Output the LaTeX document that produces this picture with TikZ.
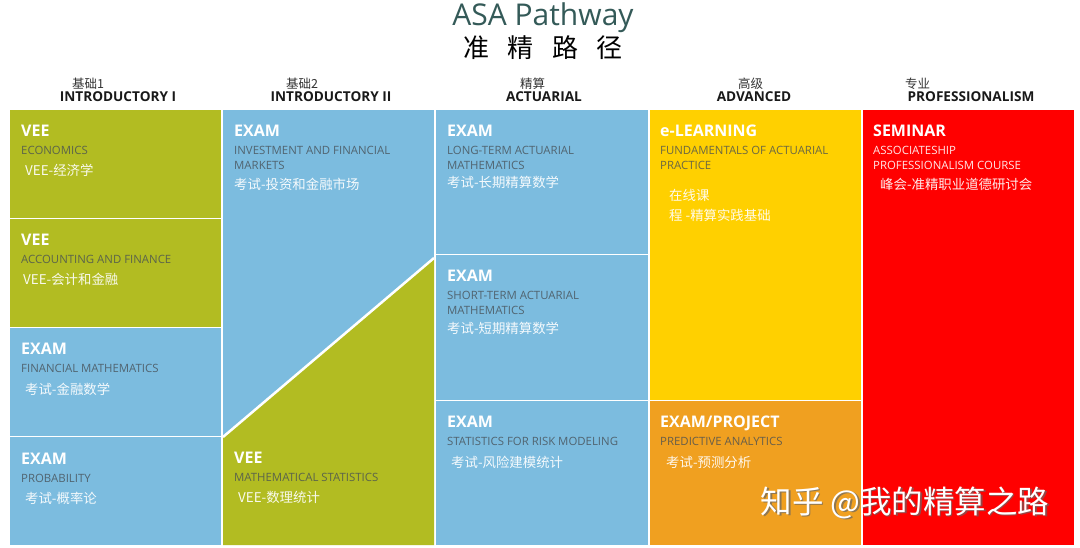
\documentclass[tikz,border=0pt]{standalone}
\usepackage{fontspec}
\setmainfont{Open Sans}
\newfontfamily\cjk{Noto Sans CJK SC}
\definecolor{cgreen}{RGB}{178,188,34}
\definecolor{cblue}{RGB}{124,188,223}
\definecolor{cyellow}{RGB}{255,208,0}
\definecolor{corange}{RGB}{240,160,32}
\definecolor{cred}{RGB}{255,0,0}
\definecolor{ctitle}{RGB}{52,90,88}
\definecolor{csub}{RGB}{70,78,84}
\begin{document}
\begin{tikzpicture}[x=1pt,y=-1pt,
  head/.style={anchor=base west,inner sep=0pt,text=white,font=\fontsize{16}{16}\selectfont\bfseries},
  sub/.style={anchor=base west,inner sep=0pt,text=csub,opacity=0.8,font=\fontsize{11.4}{15}\selectfont,align=left},
  cn/.style={anchor=base west,inner sep=0pt,text=white,opacity=0.92,font=\cjk\fontsize{13.4}{20}\selectfont,align=left},
  colcn/.style={anchor=base west,inner sep=0pt,text=black!80,font=\cjk\fontsize{12.5}{12.5}\selectfont},
  colen/.style={anchor=base,inner sep=0pt,text=black!90,font=\fontsize{13.6}{13.6}\selectfont\bfseries},
  gap/.style={white,line width=2.5pt}]
\useasboundingbox (0,0) rectangle (1080,548);
\fill[white] (0,0) rectangle (1080,548);
% title
\node[anchor=base,inner sep=0pt,text=ctitle,font=\fontsize{30}{30}\selectfont] (title) at (543,26) {ASA Pathway};
\node[anchor=base,inner sep=0pt,text=black,font=\cjk\fontsize{26}{26}\selectfont] (titlecn) at (543,58) {准\hspace{0.7em}精\hspace{0.7em}路\hspace{0.7em}径};
% column headers
\node[colcn] (h1c) at (72,89) {基础1};
\node[colen] (h1e) at (118,102) {INTRODUCTORY I};
\node[colcn] (h2c) at (286,89) {基础2};
\node[colen] (h2e) at (331,102) {INTRODUCTORY II};
\node[colcn] (h3c) at (520,89) {精算};
\node[colen] (h3e) at (544,102) {ACTUARIAL};
\node[colcn] (h4c) at (738,89) {高级};
\node[colen] (h4e) at (754,102) {ADVANCED};
\node[colcn] (h5c) at (905,89) {专业};
\node[colen] (h5e) at (971,102) {PROFESSIONALISM};
% boxes column 1
\fill[cgreen] (10,110) rectangle (221,218);
\fill[cgreen] (10,219) rectangle (221,327);
\fill[cblue] (10,328) rectangle (221,436);
\fill[cblue] (10,437) rectangle (221,545);
% column 2
\fill[cblue] (223,110) rectangle (434,545);
\fill[cgreen] (223,437) -- (434,258) -- (434,545) -- (223,545) -- cycle;
\draw[gap] (223,437) -- (434,258);
% column 3
\fill[cblue] (436,110) rectangle (648,254);
\fill[cblue] (436,255) rectangle (648,400);
\fill[cblue] (436,401) rectangle (648,545);
% column 4
\fill[cyellow] (650,110) rectangle (861,400);
\fill[corange] (650,401) rectangle (861,545);
% column 5
\fill[cred] (863,110) rectangle (1074,545);
% texts column 1
\node[head] (b1h) at (21,137) {VEE};
\node[sub] (b1s) at (21,155) {ECONOMICS};
\node[cn] (b1c) at (25,176) {VEE-经济学};
\node[head] (b2h) at (21,246) {VEE};
\node[sub] (b2s) at (21,264) {ACCOUNTING AND FINANCE};
\node[cn] (b2c) at (23,285) {VEE-会计和金融};
\node[head] (b3h) at (21,355) {EXAM};
\node[sub] (b3s) at (21,373) {FINANCIAL MATHEMATICS};
\node[cn] (b3c) at (25,395) {考试-金融数学};
\node[head] (b4h) at (21,464) {EXAM};
\node[sub] (b4s) at (21,482) {PROBABILITY};
\node[cn] (b4c) at (25,503) {考试-概率论};
% column 2
\node[head] (c1h) at (234,137) {EXAM};
\node[sub] (c1s) at (234,170) {INVESTMENT AND FINANCIAL\\MARKETS};
\node[cn] (c1c) at (234,190) {考试-投资和金融市场};
\node[head] (c2h) at (234,463) {VEE};
\node[sub] (c2s) at (234,481) {MATHEMATICAL STATISTICS};
\node[cn] (c2c) at (238,502) {VEE-数理统计};
% column 3
\node[head] (d1h) at (447,137) {EXAM};
\node[sub] (d1s) at (447,170) {LONG-TERM ACTUARIAL\\MATHEMATICS};
\node[cn] (d1c) at (447,188) {考试-长期精算数学};
\node[head] (d2h) at (447,282) {EXAM};
\node[sub] (d2s) at (447,315) {SHORT-TERM ACTUARIAL\\MATHEMATICS};
\node[cn] (d2c) at (447,334) {考试-短期精算数学};
\node[head] (d3h) at (447,427) {EXAM};
\node[sub] (d3s) at (447,445) {STATISTICS FOR RISK MODELING};
\node[cn] (d3c) at (451,467) {考试-风险建模统计};
% column 4
\node[head] (e1h) at (660,137) {e-LEARNING};
\node[sub] (e1s) at (660,170) {FUNDAMENTALS OF ACTUARIAL\\PRACTICE};
\node[cn] (e1c) at (669,221) {在线课\\程 -精算实践基础};
\node[head] (e2h) at (660,427) {EXAM/PROJECT};
\node[sub] (e2s) at (660,445) {PREDICTIVE ANALYTICS};
\node[cn] (e2c) at (666,467) {考试-预测分析};
% column 5
\node[head] (f1h) at (873,137) {SEMINAR};
\node[sub,text=white,opacity=0.9] (f1s) at (873,170) {ASSOCIATESHIP\\PROFESSIONALISM COURSE};
\node[cn] (f1c) at (880,190) {峰会-准精职业道德研讨会};
% watermark
\node[anchor=base,inner sep=0pt,text=black!60,opacity=0.7,font=\cjk\fontsize{31.5}{31.5}\selectfont] (wms) at (906.5,514.5) {知乎 @我的精算之路};
\node[anchor=base,inner sep=0pt,text=white,font=\cjk\fontsize{31.5}{31.5}\selectfont] (wm) at (905,513) {知乎 @我的精算之路};
\end{tikzpicture}
\end{document}
